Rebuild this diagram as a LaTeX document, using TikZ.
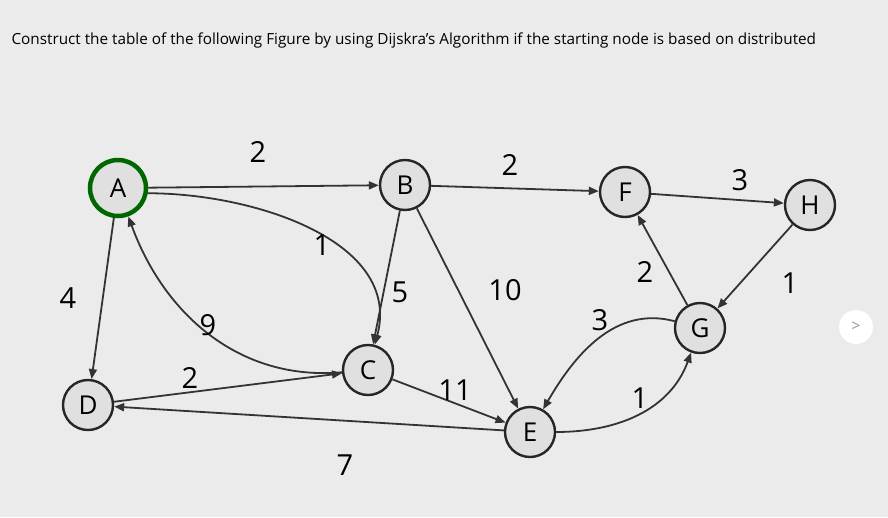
\documentclass[tikz,border=0pt]{standalone}
\usepackage{fontspec}
\setmainfont{Open Sans}
\usetikzlibrary{arrows.meta}
\begin{document}
\begin{tikzpicture}[x=1pt,y=-1pt,
 nd/.style={circle,draw=black!85,line width=2.4pt,fill=black!12,minimum size=50pt,inner sep=0pt,font=\fontsize{26}{28}\selectfont},
 ed/.style={line width=1.8pt,draw=black!80,-{Triangle[length=10pt,width=8pt]}},
 lb/.style={font=\fontsize{29}{31}\selectfont,inner sep=1pt}]
\fill[black!8] (0,0) rectangle (888,517);
\useasboundingbox (0,0) rectangle (888,517);
\node[anchor=west,font=\fontsize{15.3}{17}\selectfont] (t) at (8,40) {Construct the table of the following Figure by using Dijskra's Algorithm if the starting node is based on distributed};
\node[nd,draw=green!40!black,line width=4.5pt,minimum size=56pt] (A) at (118,188) {A};
\node[nd] (B) at (405,185) {B};
\node[nd] (F) at (625,192) {F};
\node[nd] (H) at (810,205) {H};
\node[nd] (G) at (700,328) {G};
\node[nd] (C) at (368,370) {C};
\node[nd] (D) at (88,405) {D};
\node[nd] (E) at (530,432) {E};
\node[circle,fill=white,minimum size=34pt,text=black!40,font=\fontsize{16}{16}\selectfont] (nx) at (856,327) {>};
\draw[ed] (A) -- (B);
\draw[ed] (B) -- (F);
\draw[ed] (F) -- (H);
\draw[ed] (H) -- (G);
\draw[ed] (G) -- (F);
\draw[ed] (B) -- (C);
\draw[ed] (A.-10) to[out=0,in=75] (C);
\draw[ed] (C) to[out=185,in=-70] (A);
\draw[ed] (A) -- (D);
\draw[ed] (D) -- (C);
\draw[ed] (B) -- (E);
\draw[ed] (C) -- (E);
\draw[ed] (E) -- (D);
\draw[ed] (E) to[out=0,in=-110] (G);
\draw[ed] (G) to[out=165,in=60] (E);
\node[lb] (l1) at (258,152) {2};
\node[lb] (l2) at (510,165) {2};
\node[lb] (l3) at (740,180) {3};
\node[lb] (l4) at (790,283) {1};
\node[lb] (l5) at (645,272) {2};
\node[lb] (l6) at (400,292) {5};
\node[lb] (l7) at (322,245) {1};
\node[lb] (l8) at (208,325) {9};
\node[lb] (l9) at (68,298) {4};
\node[lb] (l10) at (190,378) {2};
\node[lb] (l11) at (505,290) {10};
\node[lb] (l12) at (455,390) {11};
\node[lb] (l13) at (345,465) {7};
\node[lb] (l14) at (640,398) {1};
\node[lb] (l15) at (600,320) {3};
\end{tikzpicture}
\end{document}
